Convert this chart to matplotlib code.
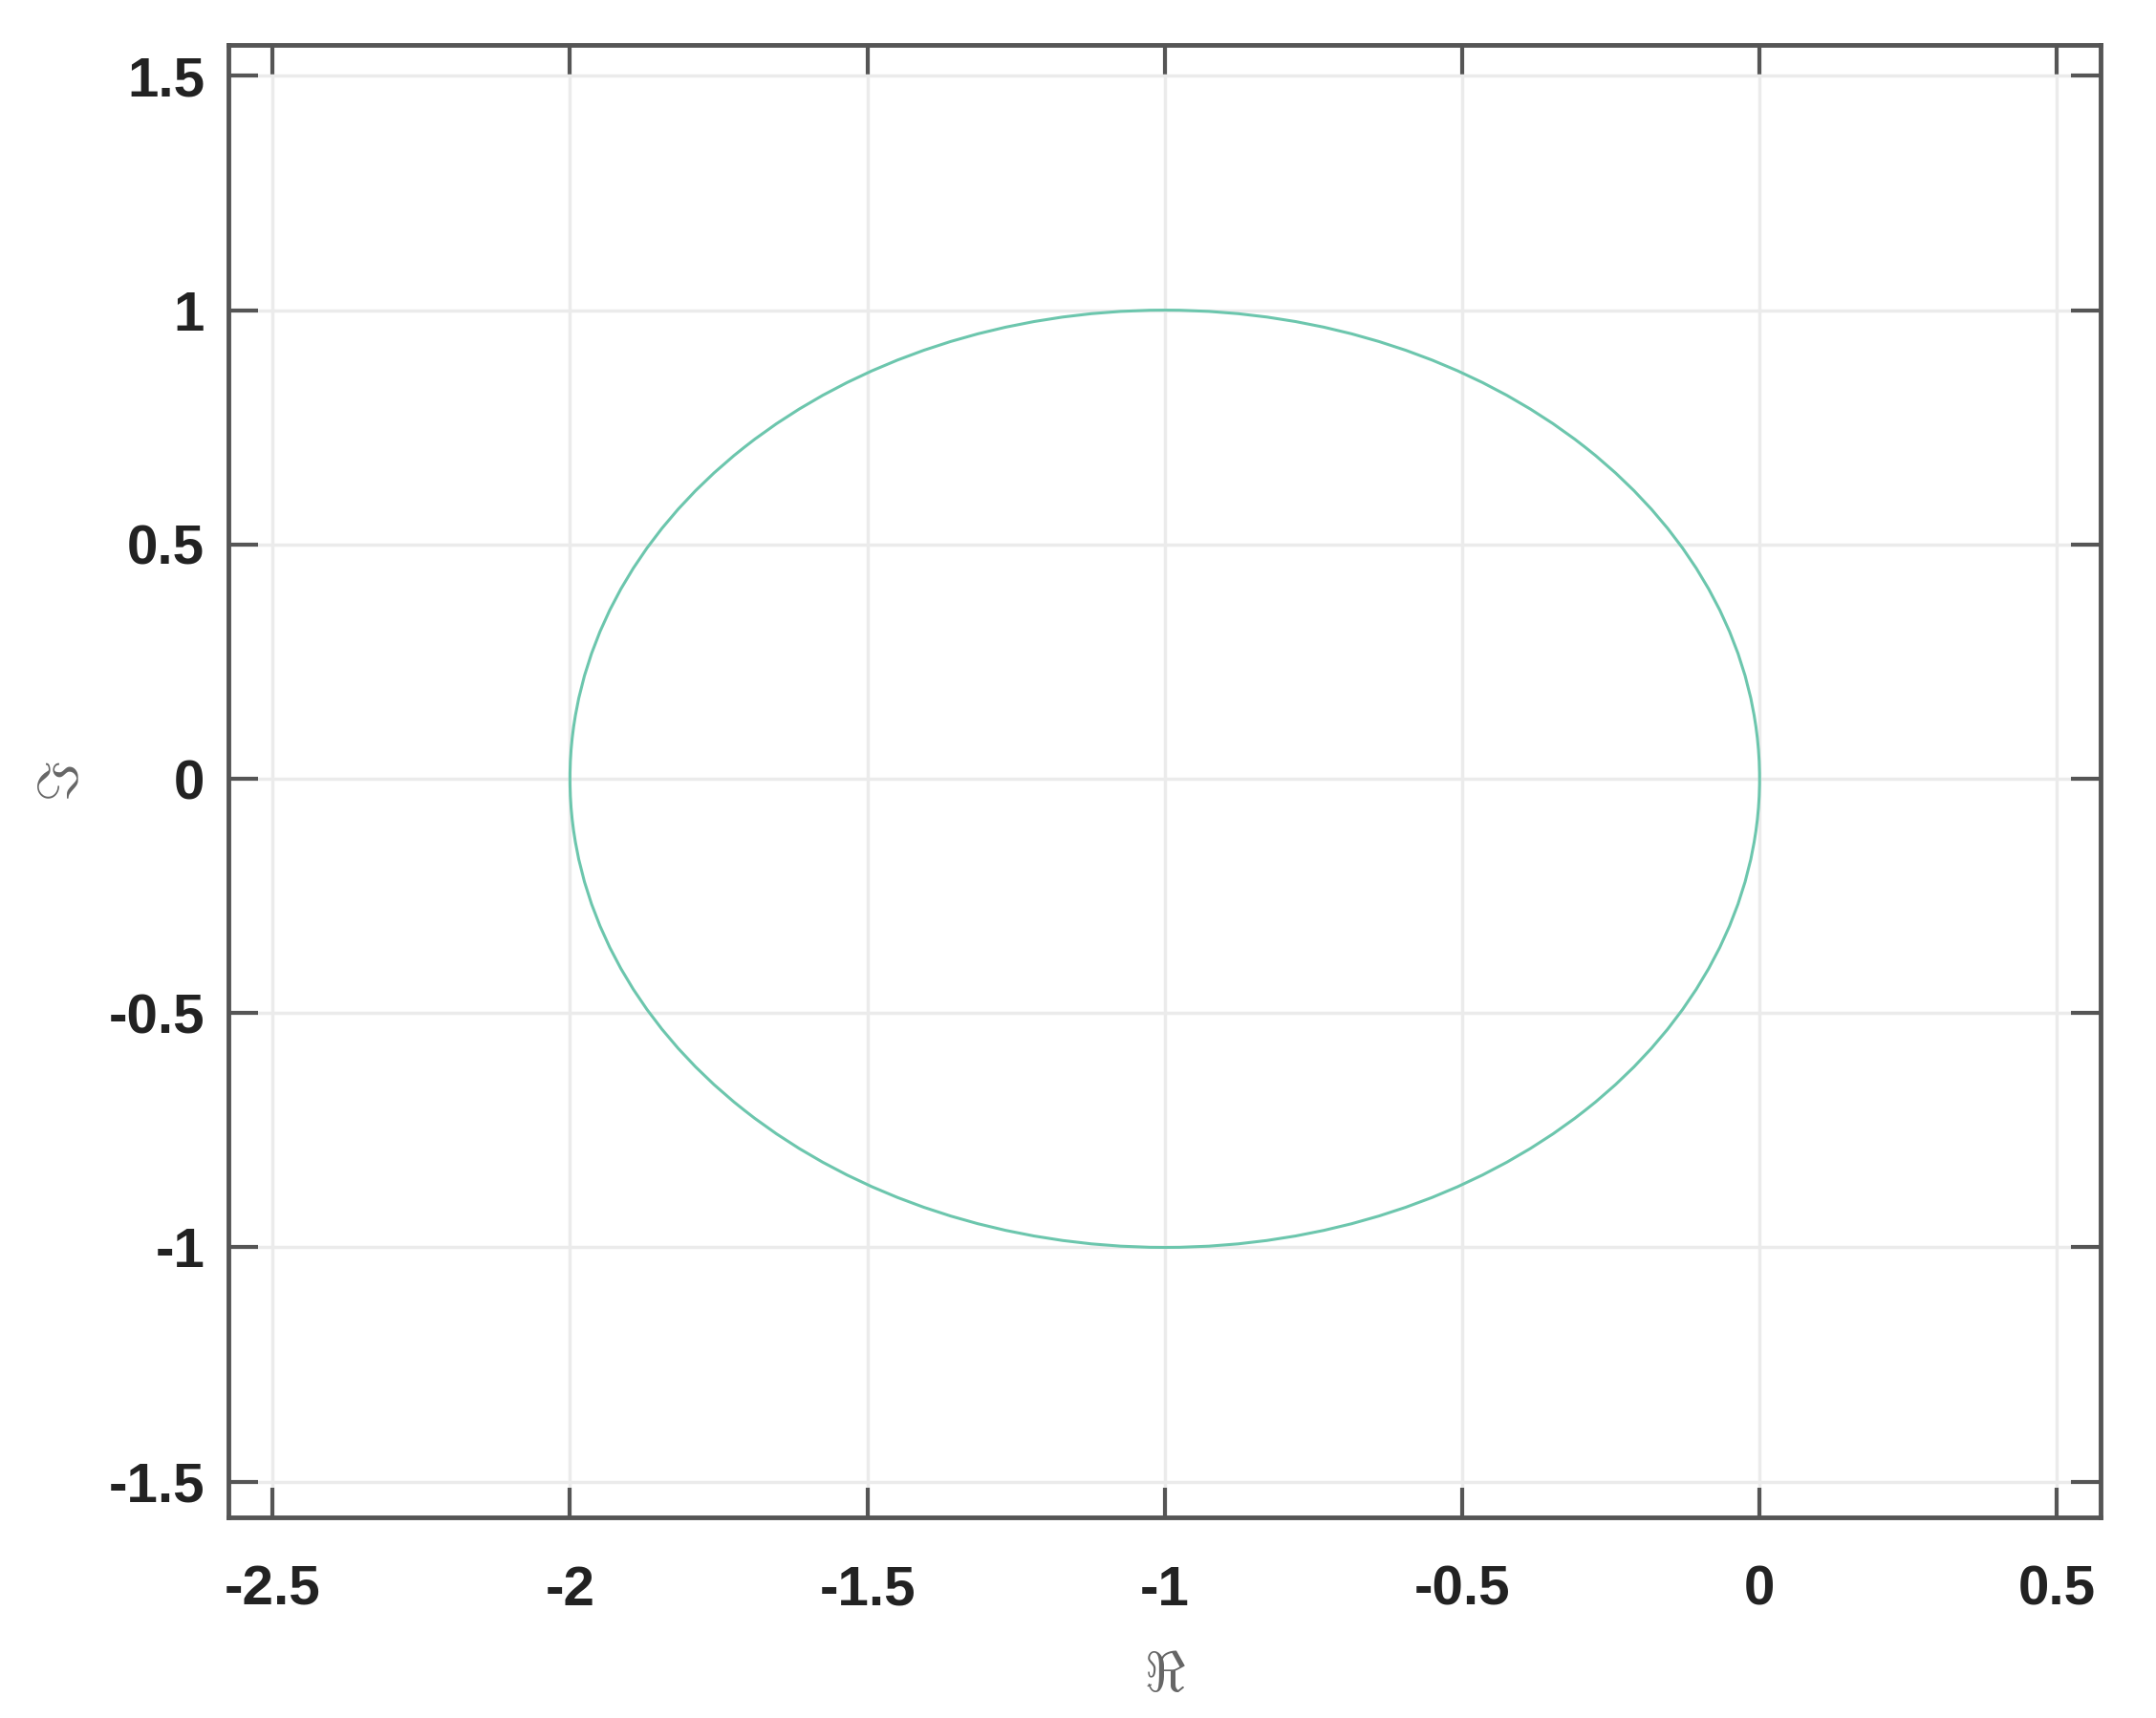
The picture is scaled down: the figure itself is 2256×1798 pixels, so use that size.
import numpy as np
import matplotlib
matplotlib.use("Agg")
from matplotlib import pyplot as plt
from matplotlib.patches import Circle

# circle data: center on the real axis, unit radius
center_re = -1.0
center_im = 0.0
radius = 1.0

xticks = [-2.5, -2, -1.5, -1, -0.5, 0, 0.5]
yticks = [-1.5, -1, -0.5, 0, 0.5, 1, 1.5]
xlim = (-2.574, 0.574)
ylim = (-1.576, 1.565)

plt.rcParams['font.family'] = ['Liberation Sans', 'DejaVu Sans']
plt.rcParams['mathtext.fontset'] = 'cm'

fig = plt.figure(figsize=(22.56, 17.98), dpi=100)
ax = fig.add_axes([0.106, 0.1168, 0.8685, 0.8568])

circ = Circle((center_re, center_im), radius, fill=False,
              edgecolor='#6cc6ad', linewidth=2.2)
ax.add_patch(circ)

ax.set_xlim(*xlim)
ax.set_ylim(*ylim)
ax.set_xticks(xticks)
ax.set_yticks(yticks)
ax.set_xticklabels([f"{t:g}" for t in xticks])
ax.set_yticklabels([f"{t:g}" for t in yticks])

ax.grid(True, color='#ebebeb', linewidth=2.5)
ax.set_axisbelow(True)
ax.tick_params(direction='in', length=22, width=3, color='#555555',
               top=True, right=True, labelsize=42, labelcolor='#222222')
ax.tick_params(axis='x', pad=36)
ax.tick_params(axis='y', pad=18)
for lab in ax.get_xticklabels() + ax.get_yticklabels():
    lab.set_fontweight('bold')
for sp in ax.spines.values():
    sp.set_linewidth(3.5)
    sp.set_color('#555555')

ax.set_xlabel(r'$\Re$', fontsize=42, color='#666666', labelpad=26)
ax.set_ylabel(r'$\Im$', fontsize=42, color='#666666', labelpad=14)

fig.savefig("out.png", dpi=100)
